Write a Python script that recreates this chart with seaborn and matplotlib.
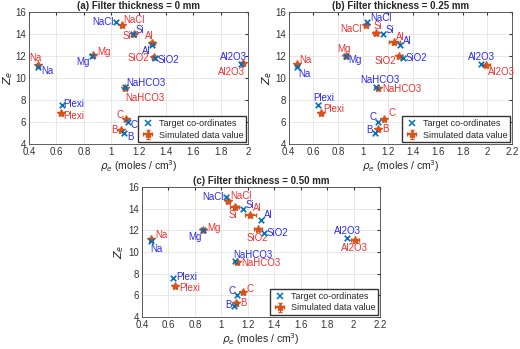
import pandas as pd
import seaborn as sns
import matplotlib.pyplot as plt
from matplotlib.lines import Line2D
from matplotlib.ticker import FuncFormatter

# materials and target co-ordinates (same in all panels)
materials = ["Na", "Mg", "Plexi", "NaCl", "Si", "Al", "SiO2", "Al2O3", "NaHCO3", "C", "B"]
target_rho = [0.465, 0.86, 0.637, 1.035, 1.16, 1.30, 1.32, 1.95, 1.10, 1.12, 1.095]
target_z = [11.0, 12.0, 7.55, 15.1, 14.0, 13.0, 11.8, 11.3, 9.2, 6.0, 5.0]

# simulated values, filter 0 mm
sim_rho_a = [0.465, 0.865, 0.63, 1.08, 1.165, 1.30, 1.31, 1.96, 1.10, 1.11, 1.07]
sim_z_a = [11.2, 12.1, 6.85, 14.8, 14.05, 13.2, 11.95, 11.35, 9.1, 6.3, 5.3]
sim_xerr_a = [0.005, 0.005, 0.005, 0.005, 0.01, 0.02, 0.01, 0.01, 0.005, 0.005, 0.005]
sim_yerr_a = [0.05, 0.05, 0.05, 0.05, 0.05, 0.2, 0.05, 0.05, 0.05, 0.05, 0.05]

# simulated values, filter 0.25 mm
sim_rho_b = [0.465, 0.86, 0.66, 1.02, 1.10, 1.25, 1.29, 1.99, 1.12, 1.17, 1.12]
sim_z_b = [11.25, 12.05, 6.85, 14.85, 14.15, 13.25, 12.05, 11.2, 9.15, 6.3, 5.35]
sim_xerr_b = [0.005, 0.005, 0.005, 0.01, 0.02, 0.045, 0.02, 0.03, 0.01, 0.005, 0.01]
sim_yerr_b = [0.05, 0.05, 0.05, 0.05, 0.05, 0.1, 0.1, 0.05, 0.05, 0.05, 0.1]

# simulated values, filter 0.50 mm
sim_rho_c = [0.47, 0.86, 0.65, 1.05, 1.10, 1.22, 1.28, 2.01, 1.12, 1.16, 1.11]
sim_z_c = [11.2, 12.05, 6.9, 14.7, 14.2, 13.4, 12.1, 11.15, 9.1, 6.3, 5.25]
sim_xerr_c = [0.005, 0.005, 0.005, 0.015, 0.035, 0.045, 0.03, 0.03, 0.01, 0.005, 0.01]
sim_yerr_c = [0.05, 0.05, 0.05, 0.1, 0.1, 0.1, 0.1, 0.05, 0.05, 0.05, 0.2]

titles = ["(a) Filter thickness = 0 mm", "(b) Filter thickness = 0.25 mm",
          "(c) Filter thickness = 0.50 mm"]

# label offsets (points) and alignment: target / simulated
tgt_lbl_a = {"Na": (2, -3, "left"), "Mg": (-2, -4, "right"), "Plexi": (1, 1, "left"),
             "NaCl": (-2, 0, "right"), "Si": (2, 3, "left"), "Al": (-1, -4, "right"),
             "SiO2": (2, -1, "left"), "Al2O3": (4, 5, "right"), "NaHCO3": (1, 3, "left"),
             "C": (2, -2, "left"), "B": (2, -3, "left")}
sim_lbl_a = {"Na": (-2, 5, "center"), "Mg": (3, 2, "left"), "Plexi": (2, -2, "left"),
             "NaCl": (1, 4, "left"), "Si": (-2, -2, "right"), "Al": (-2, 5, "center"),
             "SiO2": (-3, -1, "right"), "Al2O3": (2, -6, "right"), "NaHCO3": (0, -7, "left"),
             "C": (-2, 3, "right"), "B": (-2, 0, "right")}
tgt_lbl_b = {"Na": (1, -5, "left"), "Mg": (2, -3, "left"), "Plexi": (4, 5, "center"),
             "NaCl": (2, 3, "left"), "Si": (2, 3, "left"), "Al": (2, 3, "left"),
             "SiO2": (2, 0, "left"), "Al2O3": (0, 5, "center"), "NaHCO3": (3, 5, "center"),
             "C": (-1, 4, "right"), "B": (-2, 2, "right")}
sim_lbl_b = {"Na": (2, 3, "left"), "Mg": (-1, 5, "center"), "Plexi": (2, 3, "left"),
             "NaCl": (-3, -3, "right"), "Si": (2, 5, "center"), "Al": (1, 4, "left"),
             "SiO2": (-2, -4, "right"), "Al2O3": (1, -5, "left"), "NaHCO3": (3, -1, "left"),
             "C": (3, 4, "left"), "B": (3, 0, "left")}
tgt_lbl_c = {"Na": (0, -6, "left"), "Mg": (-1, -5, "right"), "Plexi": (2, 1, "left"),
             "NaCl": (-2, 0, "right"), "Si": (2, 3, "left"), "Al": (2, 3, "left"),
             "SiO2": (2, 0, "left"), "Al2O3": (0, 5, "center"), "NaHCO3": (-1, 4, "left"),
             "C": (-1, 3, "right"), "B": (-2, 1, "right")}
sim_lbl_c = {"Na": (3, 3, "left"), "Mg": (3, 1, "left"), "Plexi": (3, -2, "left"),
             "NaCl": (2, 4, "left"), "Si": (-1, -6, "center"), "Al": (2, 5, "left"),
             "SiO2": (-1, -6, "center"), "Al2O3": (0, -6, "center"), "NaHCO3": (3, -1, "left"),
             "C": (3, 2, "left"), "B": (3, 0, "left")}

sns.set_style("whitegrid")
plt.rcParams["font.family"] = ["Liberation Sans", "DejaVu Sans"]
plt.rcParams["mathtext.fontset"] = "dejavusans"

blue_mk = "#0072BD"
red_mk = "#D95319"
blue_txt = "#2a2af0"
red_txt = "#f03030"

fig = plt.figure(figsize=(5.2, 3.49), dpi=100)
ax_a = fig.add_axes([0.056, 0.587, 0.421, 0.378])
ax_b = fig.add_axes([0.555, 0.587, 0.430, 0.378])
ax_c = fig.add_axes([0.273, 0.092, 0.458, 0.372])

panels = [
    (ax_a, sim_rho_a, sim_z_a, sim_xerr_a, sim_yerr_a, tgt_lbl_a, sim_lbl_a, 2.0),
    (ax_b, sim_rho_b, sim_z_b, sim_xerr_b, sim_yerr_b, tgt_lbl_b, sim_lbl_b, 2.2),
    (ax_c, sim_rho_c, sim_z_c, sim_xerr_c, sim_yerr_c, tgt_lbl_c, sim_lbl_c, 2.2),
]

for i, (ax, sr, sz, sxe, sye, tl, sl, xmax) in enumerate(panels):
    df = pd.DataFrame({"material": materials, "rho": target_rho, "z": target_z,
                       "sim_rho": sr, "sim_z": sz, "xerr": sxe, "yerr": sye})

    eb = ax.errorbar(df["sim_rho"], df["sim_z"], xerr=df["xerr"], yerr=df["yerr"],
                     fmt="*", color=red_mk, ms=6, elinewidth=0.8, capsize=1.2,
                     zorder=3)
    sns.scatterplot(data=df, x="rho", y="z", marker="x", color=blue_mk, s=16,
                    linewidth=1.2, ax=ax, zorder=4)

    for _, r in df.iterrows():
        dx, dy, ha = tl[r["material"]]
        ax.annotate(r["material"], (r["rho"], r["z"]), xytext=(dx, dy),
                    textcoords="offset points", ha=ha, va="center",
                    color=blue_txt, fontsize=7)
        dx, dy, ha = sl[r["material"]]
        ax.annotate(r["material"], (r["sim_rho"], r["sim_z"]), xytext=(dx, dy),
                    textcoords="offset points", ha=ha, va="center",
                    color=red_txt, fontsize=7)

    ax.set_xlim(0.4, xmax)
    ax.set_ylim(4, 16)
    ax.set_xticks([0.4 + 0.2 * k for k in range(int(round((xmax - 0.4) / 0.2)) + 1)])
    ax.set_yticks([4, 6, 8, 10, 12, 14, 16])
    ax.xaxis.set_major_formatter(FuncFormatter(lambda v, p: "%g" % round(v, 2)))
    ax.tick_params(labelsize=7, direction="in", length=2, pad=2,
                   top=True, right=True, colors="#333333")
    ax.grid(True, color="#e4e4e4", linewidth=0.6)
    for s in ax.spines.values():
        s.set_color("#444444")
        s.set_linewidth(0.6)
    ax.set_xlabel(r"$\rho_e$ (moles / cm$^3$)", fontsize=7.5, labelpad=1)
    ax.set_ylabel(r"$Z_e$", fontsize=8, labelpad=0)
    ax.yaxis.set_label_coords(-0.065, 0.5)
    ax.set_title(titles[i], fontsize=7, fontweight="bold", pad=2)

    h_t = Line2D([], [], marker="x", color=blue_mk, linestyle="none",
                 markersize=4, markeredgewidth=1.1)
    ax.legend([h_t, eb], ["Target co-ordinates", "Simulated data value"],
              loc="lower right", fontsize=6.5, frameon=True, fancybox=False,
              edgecolor="#333333", framealpha=1, borderpad=0.3, labelspacing=0.3,
              handletextpad=0.5, handlelength=1.5, borderaxespad=0.2)

fig.savefig("out.png", dpi=100)
